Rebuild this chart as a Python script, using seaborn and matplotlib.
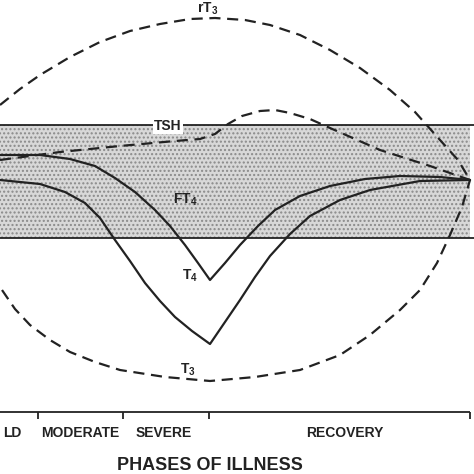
import matplotlib
matplotlib.use('Agg')
import matplotlib.pyplot as plt
import numpy as np
import seaborn as sns

sns.set_style('white')
plt.rcParams['font.family'] = ['Liberation Sans', 'DejaVu Sans']

# curves (pixel-like units, y downwards)
rt3_x = [0, 20, 40, 70, 100, 130, 160, 190, 215, 245, 270, 300, 330, 360, 390, 415, 440, 458, 470]
rt3_y = [105, 89, 75, 57, 42, 31, 24, 19, 18, 20, 25, 35, 50, 68, 90, 112, 140, 160, 180]
t3_x = [2, 15, 30, 50, 70, 95, 120, 165, 210, 255, 300, 340, 370, 400, 420, 437, 450, 462, 470]
t3_y = [290, 309, 325, 340, 352, 362, 370, 377, 381, 377, 370, 355, 335, 310, 290, 263, 235, 207, 180]
tsh_x = [0, 60, 120, 175, 200, 215, 228, 242, 260, 275, 290, 310, 330, 355, 380, 430, 470]
tsh_y = [160, 152, 146, 141, 139, 134, 124, 116, 111, 110, 113, 119, 128, 139, 150, 166, 180]
ft4_x = [0, 40, 70, 95, 115, 135, 155, 170, 185, 198, 210, 225, 240, 258, 275, 300, 330, 365, 400, 440, 470]
ft4_y = [155, 155, 159, 166, 178, 192, 210, 226, 245, 263, 280, 263, 245, 226, 210, 196, 186, 179, 176, 177, 180]
t4_x = [0, 40, 65, 85, 100, 115, 130, 145, 160, 175, 192, 210, 225, 240, 255, 270, 290, 310, 340, 370, 420, 470]
t4_y = [180, 184, 192, 203, 218, 240, 261, 283, 301, 317, 331, 344, 322, 300, 277, 256, 234, 216, 200, 190, 181, 180]
band = (125, 238)
phase_ticks = [38, 123, 209, 470]
phase_labels = ['LD', 'MODERATE', 'SEVERE', 'RECOVERY']
phase_label_x = [12, 80, 164, 345]

fig = plt.figure(figsize=(4.74, 4.74), dpi=100)
ax = fig.add_axes([0, 0, 1, 1])
ax.set_xlim(0, 474)
ax.set_ylim(474, 0)
ax.axis('off')

ax.fill_between([0, 470], band[0], band[1], facecolor='#d8d8d8', hatch='....',
                edgecolor='#8a8a8a', linewidth=0)
ax.hlines(band, 0, 474, color='#222222', lw=1.3)

for xs, ys, ls in [(rt3_x, rt3_y, (0, (5, 3))), (t3_x, t3_y, (0, (5, 3))),
                   (tsh_x, tsh_y, (0, (5, 3))), (ft4_x, ft4_y, '-'), (t4_x, t4_y, '-')]:
    sns.lineplot(x=xs, y=ys, sort=False, ax=ax, color='#222222', lw=1.6,
                 linestyle=ls, estimator=None)

kw = dict(fontsize=10, fontweight='bold', color='#222222', ha='center', va='center')
ax.text(208, 9, r'r$\mathregular{T_3}$', **kw)
ax.text(168, 126, 'TSH', bbox=dict(fc='white', ec='none', pad=1), **kw)
ax.text(185, 200, r'F$\mathregular{T_4}$', **kw)
ax.text(190, 276, r'$\mathregular{T_4}$', **kw)
ax.text(188, 370, r'$\mathregular{T_3}$', **kw)

ax.hlines(412, 0, 470, color='#222222', lw=1.3)
ax.vlines(phase_ticks, 412, 419, color='#222222', lw=1.3)
for lx, lab in zip(phase_label_x, phase_labels):
    ax.text(lx, 433, lab, **kw)
ax.text(210, 465, 'PHASES OF ILLNESS', fontsize=13, fontweight='bold',
        color='#222222', ha='center', va='center')

fig.savefig('out.png', dpi=100)
